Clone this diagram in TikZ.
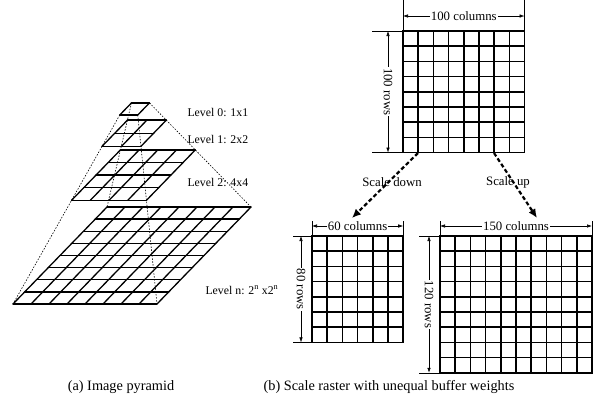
\documentclass[tikz,border=0pt]{standalone}
\usepackage{fontspec}
\setmainfont{Liberation Serif}
\usetikzlibrary{arrows.meta}

\tikzset{
  rasterline/.style={line width=1.6pt, line cap=rect},
  pyrline/.style={line width=1.3pt, line cap=round},
  pyrdash/.style={line width=0.6pt, dash pattern=on 1.5pt off 1.5pt},
  dimline/.style={line width=0.6pt},
  dimarrow/.style={line width=0.6pt, {Latex[length=5pt,width=3.5pt]}-{Latex[length=5pt,width=3.5pt]}},
  dimlabel/.style={fill=white, inner sep=1pt, font=\fontsize{12.8}{14}\selectfont},
  scalearrow/.style={line width=2.2pt, dash pattern=on 4pt off 2.5pt, -{Latex[length=9pt,width=8pt]}},
  scalelabel/.style={font=\fontsize{12.8}{14}\selectfont},
  levellabel/.style={anchor=west, font=\fontsize{11.8}{14}\selectfont},
  caption/.style={font=\fontsize{14.3}{17}\selectfont},
}

\def\cell{15.2}

% one level of the pyramid, scaled about the apex
\newcommand{\pyrlevel}[3]{% #1 name, #2 scale, #3 cells per side
  \begin{scope}[shift={(135,88)}, scale=#2]
    \foreach \k in {0,...,#3} {
      \draw[pyrline] (-28+144*\k/#3,119) -- ++(-94,97);
      \draw[pyrline] (-28-94*\k/#3,119+97*\k/#3) -- ++(144,0);
    }
    \coordinate (#1tl) at (-28,119);
    \coordinate (#1tr) at (116,119);
    \coordinate (#1bl) at (-122,216);
    \coordinate (#1br) at (22,216);
  \end{scope}}

% a raster of square cells, top left corner at (#2,#3)
\newcommand{\raster}[5]{% #1 name, #4 columns, #5 rows
  \begin{scope}[shift={(#2,#3)}]
    \foreach \c in {0,...,#4}
      \draw[rasterline] (\c*\cell,0) -- (\c*\cell,#5*\cell);
    \foreach \r in {0,...,#5}
      \draw[rasterline] (0,\r*\cell) -- (#4*\cell,\r*\cell);
    \coordinate (#1nw) at (0,0);
    \coordinate (#1ne) at (#4*\cell,0);
    \coordinate (#1sw) at (0,#5*\cell);
  \end{scope}}

% dimension above a raster: #2 gap to the arrow, #3 extension length
\newcommand{\colsdim}[4]{%
  \path (#1nw) ++(0,-#3) coordinate (#1extnw)
        (#1ne) ++(0,-#3) coordinate (#1extne)
        (#1nw) ++(0,-#2) coordinate (#1dimw)
        (#1ne) ++(0,-#2) coordinate (#1dime);
  \draw[dimline] (#1nw) -- (#1extnw) (#1ne) -- (#1extne);
  \draw[dimarrow] (#1dimw) -- node[dimlabel] {#4} (#1dime);}

% dimension left of a raster
\newcommand{\rowsdim}[4]{%
  \path (#1nw) ++(-#3,0) coordinate (#1extwn)
        (#1sw) ++(-#3,0) coordinate (#1extws)
        (#1nw) ++(-#2,0) coordinate (#1dimn)
        (#1sw) ++(-#2,0) coordinate (#1dims);
  \draw[dimline] (#1nw) -- (#1extwn) (#1sw) -- (#1extws);
  \draw[dimarrow] (#1dimn) -- node[dimlabel, rotate=-90] {#4} (#1dims);}

\begin{document}
\begin{tikzpicture}[x=1pt, y=-1pt]
  \useasboundingbox (0,0) rectangle (593,405);

  % (a) image pyramid
  \pyrlevel{l0}{0.125}{1}
  \pyrlevel{l1}{0.27}{2}
  \pyrlevel{l2}{0.52}{4}
  \pyrlevel{ln}{1}{8}
  \draw[pyrdash] (l0bl) -- (lnbl);
  \draw[pyrdash] (l0tr) -- (lntr);
  \draw[pyrdash] (l0tl) -- (lntl);
  \draw[pyrdash] (l0br) -- (lnbr);

  \node[levellabel] (lab0) at (184,112) {Level 0: 1x1};
  \node[levellabel] (lab1) at (184,139) {Level 1: 2x2};
  \node[levellabel] (lab2) at (184,182) {Level 2: 4x4};
  \node[levellabel] (labn) at (202,290) {Level n: 2\textsuperscript{n} x2\textsuperscript{n}};

  % (b) scale raster
  \raster{g1}{403}{31}{8}{8}
  \raster{g2}{312}{236}{6}{7}
  \raster{g3}{440}{236}{10}{9}

  \colsdim{g1}{15}{31}{100 columns}
  \rowsdim{g1}{15}{31}{100 rows}
  \colsdim{g2}{10}{15}{60 columns}
  \rowsdim{g2}{11}{19}{80 rows}
  \colsdim{g3}{10}{15}{150 columns}
  \rowsdim{g3}{11}{21}{120 rows}

  \coordinate (downfrom) at (418,153);
  \coordinate (downto) at (352,218);
  \coordinate (upfrom) at (494,153);
  \coordinate (upto) at (537,218);
  \draw[scalearrow] (downfrom) -- (downto);
  \draw[scalearrow] (upfrom) -- (upto);
  \node[scalelabel] (scaledown) at (392,182) {Scale down};
  \node[scalelabel] (scaleup) at (508,182) {Scale up};

  \node[caption] (capa) at (121,387) {(a) Image pyramid};
  \node[caption] (capb) at (389,387) {(b) Scale raster with unequal buffer weights};
\end{tikzpicture}
\end{document}
